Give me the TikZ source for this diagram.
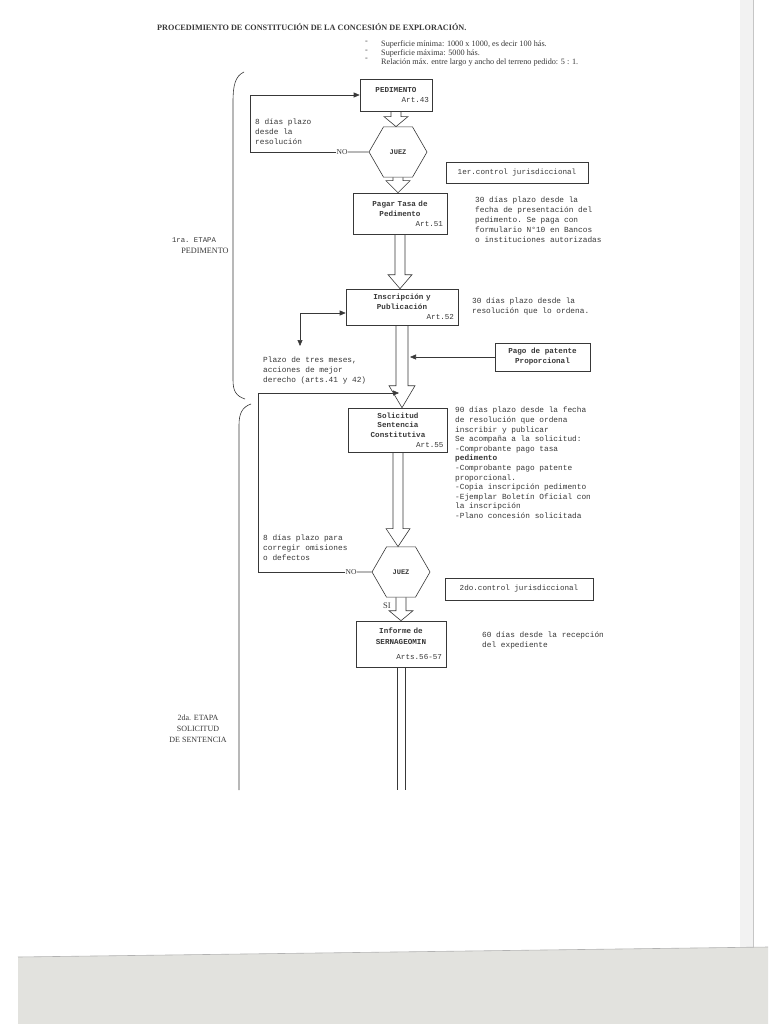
\documentclass[tikz,border=0pt]{standalone}
\usepackage{fontspec}
\setmainfont{Liberation Serif}
\setmonofont{Liberation Mono}
\usetikzlibrary{shapes.geometric,arrows.meta,calc}
\definecolor{ink}{gray}{0.22}
\definecolor{scan}{RGB}{226,226,222}
% \harrow[head length]{shaft half width}{head half width}{from}{to}
\newcommand\harrow[5][14]{\draw[ln] ($(#4)+(-#2,0)$) -- ($(#5)+(-#2,-#1)$) -- ($(#5)+(-#3,-#1)$) -- (#5) -- ($(#5)+(#3,-#1)$) -- ($(#5)+(#2,-#1)$) -- ($(#4)+(#2,0)$);}
\tikzset{
 ln/.style={draw=ink, line width=0.6pt},
 arr/.style={ln, -{Triangle[length=6pt,width=5pt]}},
 box/.style={ln, rectangle, inner sep=3pt, font=\ttfamily\fontsize{7.6}{10}\selectfont, text=ink, align=center},
 hex/.style={ln, regular polygon, regular polygon sides=6, minimum size=58pt, inner sep=0pt, font=\ttfamily\bfseries\fontsize{7}{9}\selectfont, text=ink},
 note/.style={font=\ttfamily\fontsize{7.8}{10}\selectfont, text=ink, align=left, inner sep=0pt, anchor=north west},
 ser/.style={font=\fontsize{7.5}{9}\selectfont, text=ink, inner sep=0pt},
}
\begin{document}
\begin{tikzpicture}[x=1pt,y=-1pt]
\useasboundingbox (0,0) rectangle (768,1024);
\fill[white] (0,0) rectangle (768,1024);
% scan edges
\fill[gray!10] (740,0) rectangle (753,955);
\draw[gray!45, line width=0.8pt] (753,0) -- (753,955);
\fill[scan] (18,957) -- (768,947) -- (768,1024) -- (18,1024) -- cycle;
\draw[gray!60, line width=0.6pt] (18,957) -- (768,947);

% title and bullets
\node[ser, anchor=west, font=\bfseries\fontsize{8.2}{9}\selectfont] (title) at (157,27) {PROCEDIMIENTO DE CONSTITUCIÓN DE LA CONCESIÓN DE EXPLORACIÓN.};
\node[ser, anchor=north west, align=left, font=\fontsize{8.2}{8.7}\selectfont] (dashes) at (365,41) {-\\-\\-};
\node[ser, anchor=north west, align=left, font=\fontsize{8.2}{8.7}\selectfont] (bullets) at (381,41) {Superficie mínima: 1000 x 1000, es decir 100 hás.\\Superficie máxima: 5000 hás.\\Relación máx. entre largo y ancho del terreno pedido: 5 : 1.};

% brackets and stage labels
\draw[ln] (244,72) .. controls (235,76) and (233,86) .. (233,102) -- (233,380) .. controls (233,391) and (236,396) .. (245,399);
\draw[ln] (251,404) .. controls (242,407) and (239,414) .. (239,425) -- (239,790);
\node[ser, font=\ttfamily\fontsize{7.3}{9}\selectfont] (et1a) at (194,240) {1ra. ETAPA};
\node[ser, font=\fontsize{8.2}{9}\selectfont] (et1b) at (205,251) {PEDIMENTO};
\node[ser, align=center, font=\fontsize{8}{11}\selectfont] (et2) at (198,729) {2da. ETAPA\\SOLICITUD\\DE SENTENCIA};

% flow nodes
\node[box, minimum width=72pt, minimum height=32pt, text width=66pt] (ped) at (396,95) {\textbf{PEDIMENTO}\\\makebox[\linewidth][r]{Art.43}};
\node[hex] (juez1) at (398,152) {JUEZ};
\node[box, minimum width=142pt, minimum height=21pt] (ctl1) at (517,172.5) {1er.control jurisdiccional};
\node[box, minimum width=94pt, minimum height=41pt, text width=86pt] (pagar) at (400,213.5) {\textbf{Pagar Tasa de}\\\textbf{Pedimento}\\\makebox[\linewidth][r]{Art.51}};
\node[box, minimum width=112pt, minimum height=36pt, text width=104pt] (insc) at (402,307) {\textbf{Inscripción y}\\\textbf{Publicación}\\\makebox[\linewidth][r]{Art.52}};
\node[box, minimum width=95pt, minimum height=28pt] (pago) at (542.5,357) {\textbf{Pago de patente}\\\textbf{Proporcional}};
\node[box, minimum width=99pt, minimum height=44pt, text width=91pt, font=\ttfamily\fontsize{7.6}{9.6}\selectfont] (ssc) at (398,430) {\textbf{Solicitud}\\\textbf{Sentencia}\\\textbf{Constitutiva}\\\makebox[\linewidth][r]{Art.55}};
\node[hex] (juez2) at (401,572) {JUEZ};
\node[box, minimum width=148pt, minimum height=22pt] (ctl2) at (519,589) {2do.control jurisdiccional};
\node[box, minimum width=90pt, minimum height=46pt, text width=82pt, font=\ttfamily\fontsize{7.6}{11}\selectfont] (inf) at (401,644) {\textbf{Informe de}\\\textbf{SERNAGEOMIN}\\[4pt]\makebox[\linewidth][r]{Arts.56-57}};

% notes
\node[note] (n1) at (255,119) {8 días plazo\\desde la\\resolución};
\node[note] (n2) at (475,197) {30 días plazo desde la\\fecha de presentación del\\pedimento. Se paga con\\formulario N°10 en Bancos\\o instituciones autorizadas};
\node[note] (n3) at (472,298) {30 días plazo desde la\\resolución que lo ordena.};
\node[note] (n4) at (263,357) {Plazo de tres meses,\\acciones de mejor\\derecho (arts.41 y 42)};
\node[note, font=\ttfamily\fontsize{7.8}{9.6}\selectfont] (n5) at (455,407) {90 días plazo desde la fecha\\de resolución que ordena\\inscribir y publicar\\Se acompaña a la solicitud:\\ -Comprobante pago tasa\\\textbf{pedimento}\\ -Comprobante pago patente\\proporcional.\\ -Copia inscripción pedimento\\-Ejemplar Boletín Oficial con\\la inscripción\\-Plano concesión solicitada};
\node[note] (n6) at (263,535) {8 días plazo para\\corregir omisiones\\o defectos};
\node[note] (n7) at (482,632) {60 días desde la recepción\\del expediente};
\node[ser] (no1) at (342,152) {NO};
\node[ser] (no2) at (351,572) {NO};
\node[ser, font=\fontsize{8.5}{9}\selectfont] (si) at (387,606) {SI};

% coordinates
\coordinate (loop1) at (250,152);
\coordinate (loop2) at (258,572);
\coordinate (loop2end) at (399,393);
\coordinate (pagoend) at (410,357);
\coordinate (plazotip) at (300,346);
\coordinate (insci) at ($(insc.west)+(0,6)$);
\coordinate (infL) at (397,790);
\coordinate (infR) at (405,790);

% connectors
\draw[ln] (juez1.west) -- (no1.east);
\draw[arr] (no1.west) -- (loop1) |- (ped.west);
\draw[ln] (juez2.west) -- (no2.east);
\draw[arr] (no2.west) -- (loop2) |- (loop2end);
\draw[arr] (pago.west) -- (pagoend);
\draw[ln, {Triangle[length=6pt,width=5pt]}-{Triangle[length=6pt,width=5pt]}] (plazotip) |- (insci);

\harrow[10]{5}{12}{ped.south}{ped.south |- juez1.north}
\harrow[12]{5}{12}{juez1.south}{juez1.south |- pagar.north}
\harrow[14]{5}{12}{pagar.south}{pagar.south |- insc.north}
\harrow[22]{6}{13}{insc.south}{insc.south |- ssc.north}
\harrow[18]{5}{12}{ssc.south}{ssc.south |- juez2.north}
\harrow[10]{5}{12}{juez2.south}{juez2.south |- inf.north}
\draw[ln] (inf.south -| infL) -- (infL);
\draw[ln] (inf.south -| infR) -- (infR);
\end{tikzpicture}
\end{document}
